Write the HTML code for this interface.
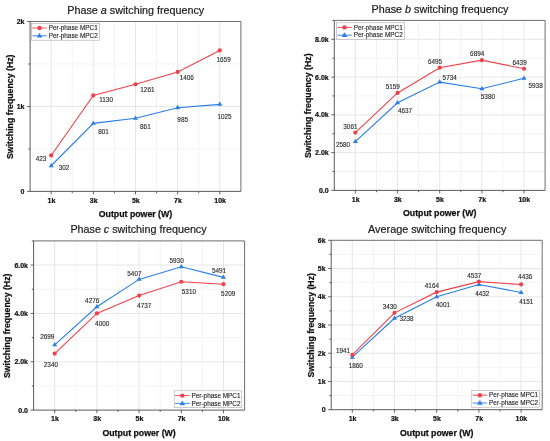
<!DOCTYPE html><html><head><meta charset="utf-8"><title>Switching frequency</title><style>html,body{margin:0;padding:0;background:#fff}svg{display:block}</style></head><body><svg width="550" height="441" viewBox="0 0 550 441" font-family="'Liberation Sans', sans-serif">
<rect width="550" height="441" fill="#fff"/>
<g stroke="#ececec" stroke-width="0.6"><line x1="72.26" y1="21.5" x2="72.26" y2="191.4"/><line x1="114.42" y1="21.5" x2="114.42" y2="191.4"/><line x1="156.58" y1="21.5" x2="156.58" y2="191.4"/><line x1="198.74" y1="21.5" x2="198.74" y2="191.4"/><line x1="30.1" y1="148.93" x2="240.9" y2="148.93"/><line x1="30.1" y1="63.97" x2="240.9" y2="63.97"/></g>
<g stroke="#dadada" stroke-width="0.65"><line x1="51.18" y1="21.5" x2="51.18" y2="191.4"/><line x1="93.34" y1="21.5" x2="93.34" y2="191.4"/><line x1="135.50" y1="21.5" x2="135.50" y2="191.4"/><line x1="177.66" y1="21.5" x2="177.66" y2="191.4"/><line x1="219.82" y1="21.5" x2="219.82" y2="191.4"/><line x1="30.1" y1="106.45" x2="240.9" y2="106.45"/></g>
<path d="M30.1 21.5H240.9V191.4" fill="none" stroke="#6e6e6e" stroke-width="1"/>
<path d="M30.1 21.5V191.4H240.9" fill="none" stroke="#484848" stroke-width="0.9"/>
<g stroke="#3a3a3a" stroke-width="0.8"><line x1="51.18000000000001" y1="191.4" x2="51.18000000000001" y2="194.4"/><line x1="72.26" y1="191.4" x2="72.26" y2="193.20000000000002"/><line x1="93.34" y1="191.4" x2="93.34" y2="194.4"/><line x1="114.42" y1="191.4" x2="114.42" y2="193.20000000000002"/><line x1="135.5" y1="191.4" x2="135.5" y2="194.4"/><line x1="156.57999999999998" y1="191.4" x2="156.57999999999998" y2="193.20000000000002"/><line x1="177.66" y1="191.4" x2="177.66" y2="194.4"/><line x1="198.74" y1="191.4" x2="198.74" y2="193.20000000000002"/><line x1="219.82" y1="191.4" x2="219.82" y2="194.4"/><line x1="30.1" y1="191.40" x2="27.1" y2="191.40"/><line x1="30.1" y1="148.93" x2="28.3" y2="148.93"/><line x1="30.1" y1="106.45" x2="27.1" y2="106.45"/><line x1="30.1" y1="63.97" x2="28.3" y2="63.97"/><line x1="30.1" y1="21.50" x2="27.1" y2="21.50"/></g>
<g font-size="7" font-weight="bold" fill="#111" stroke="#111" stroke-width="0.2"><text x="51.480000000000004" y="202.6" text-anchor="middle">1k</text><text x="93.64" y="202.6" text-anchor="middle">3k</text><text x="135.8" y="202.6" text-anchor="middle">5k</text><text x="177.96" y="202.6" text-anchor="middle">7k</text><text x="220.12" y="202.6" text-anchor="middle">10k</text><text x="24.5" y="193.90" text-anchor="end">0</text><text x="24.5" y="108.95" text-anchor="end">1k</text><text x="24.5" y="24.00" text-anchor="end">2k</text></g>
<text x="135.5" y="217" text-anchor="middle" font-size="8.75" font-weight="bold" fill="#111" stroke="#111" stroke-width="0.25">Output power (W)</text>
<text transform="translate(12.7 106.75) rotate(-90)" text-anchor="middle" font-size="8.75" font-weight="bold" fill="#111" stroke="#111" stroke-width="0.25">Switching frequency (Hz)</text>
<text x="135.8" y="14" text-anchor="middle" font-size="10.75" fill="#1a1a1a" stroke="#1a1a1a" stroke-width="0.2">Phase <tspan font-style="italic">a</tspan> switching frequency</text>
<polyline fill="none" stroke="#2a7de8" stroke-width="1.1" points="51.18,165.75 93.34,123.36 135.50,118.26 177.66,107.72 219.82,104.33"/>
<polyline fill="none" stroke="#f0404a" stroke-width="1.1" points="51.18,155.47 93.34,95.41 135.50,84.28 177.66,71.96 219.82,50.47"/>
<path d="M51.18 162.90l2.5 4.3h-5z" fill="#2a7de8"/>
<path d="M93.34 120.51l2.5 4.3h-5z" fill="#2a7de8"/>
<path d="M135.50 115.41l2.5 4.3h-5z" fill="#2a7de8"/>
<path d="M177.66 104.87l2.5 4.3h-5z" fill="#2a7de8"/>
<path d="M219.82 101.48l2.5 4.3h-5z" fill="#2a7de8"/>
<circle cx="51.18" cy="155.47" r="2.1" fill="#f0404a"/>
<circle cx="93.34" cy="95.41" r="2.1" fill="#f0404a"/>
<circle cx="135.50" cy="84.28" r="2.1" fill="#f0404a"/>
<circle cx="177.66" cy="71.96" r="2.1" fill="#f0404a"/>
<circle cx="219.82" cy="50.47" r="2.1" fill="#f0404a"/>
<g font-size="6.4" fill="#2a2a2a" stroke="#2a2a2a" stroke-width="0.12"><text x="41.00" y="160.50" text-anchor="middle">423</text><text x="106.10" y="101.50" text-anchor="middle">1130</text><text x="147.40" y="91.50" text-anchor="middle">1261</text><text x="186.80" y="79.50" text-anchor="middle">1406</text><text x="223.60" y="61.80" text-anchor="middle">1659</text><text x="64.00" y="170.00" text-anchor="middle">302</text><text x="103.50" y="133.80" text-anchor="middle">801</text><text x="145.40" y="128.60" text-anchor="middle">861</text><text x="182.70" y="121.80" text-anchor="middle">985</text><text x="224.50" y="119.40" text-anchor="middle">1025</text></g>
<rect x="31.40" y="23.40" width="68.3" height="16.8" fill="#fff" stroke="#aaa" stroke-width="0.6"/>
<line x1="32.30" y1="28.00" x2="46.90" y2="28.00" stroke="#f0404a" stroke-width="0.9"/>
<circle cx="39.50" cy="28.00" r="2.2" fill="#f0404a"/>
<text x="48.70" y="30.20" font-size="6.4" fill="#222" stroke="#222" stroke-width="0.12">Per-phase MPC1</text>
<line x1="32.30" y1="35.80" x2="46.90" y2="35.80" stroke="#2a7de8" stroke-width="0.9"/>
<path d="M39.50 32.90l2.8 4.7h-5.6z" fill="#2a7de8"/>
<text x="48.70" y="38.00" font-size="6.4" fill="#222" stroke="#222" stroke-width="0.12">Per-phase MPC2</text>
<g stroke="#ececec" stroke-width="0.6"><line x1="376.46" y1="20.4" x2="376.46" y2="190.4"/><line x1="418.62" y1="20.4" x2="418.62" y2="190.4"/><line x1="460.78" y1="20.4" x2="460.78" y2="190.4"/><line x1="502.94" y1="20.4" x2="502.94" y2="190.4"/><line x1="334.3" y1="171.51" x2="545.1" y2="171.51"/><line x1="334.3" y1="133.73" x2="545.1" y2="133.73"/><line x1="334.3" y1="95.96" x2="545.1" y2="95.96"/><line x1="334.3" y1="58.18" x2="545.1" y2="58.18"/></g>
<g stroke="#dadada" stroke-width="0.65"><line x1="355.38" y1="20.4" x2="355.38" y2="190.4"/><line x1="397.54" y1="20.4" x2="397.54" y2="190.4"/><line x1="439.70" y1="20.4" x2="439.70" y2="190.4"/><line x1="481.86" y1="20.4" x2="481.86" y2="190.4"/><line x1="524.02" y1="20.4" x2="524.02" y2="190.4"/><line x1="334.3" y1="152.62" x2="545.1" y2="152.62"/><line x1="334.3" y1="114.84" x2="545.1" y2="114.84"/><line x1="334.3" y1="77.07" x2="545.1" y2="77.07"/><line x1="334.3" y1="39.29" x2="545.1" y2="39.29"/></g>
<path d="M334.3 20.4H545.1V190.4" fill="none" stroke="#6e6e6e" stroke-width="1"/>
<path d="M334.3 20.4V190.4H545.1" fill="none" stroke="#484848" stroke-width="0.9"/>
<g stroke="#3a3a3a" stroke-width="0.8"><line x1="355.38" y1="190.4" x2="355.38" y2="193.4"/><line x1="376.46000000000004" y1="190.4" x2="376.46000000000004" y2="192.20000000000002"/><line x1="397.54" y1="190.4" x2="397.54" y2="193.4"/><line x1="418.62" y1="190.4" x2="418.62" y2="192.20000000000002"/><line x1="439.70000000000005" y1="190.4" x2="439.70000000000005" y2="193.4"/><line x1="460.78000000000003" y1="190.4" x2="460.78000000000003" y2="192.20000000000002"/><line x1="481.86" y1="190.4" x2="481.86" y2="193.4"/><line x1="502.94" y1="190.4" x2="502.94" y2="192.20000000000002"/><line x1="524.02" y1="190.4" x2="524.02" y2="193.4"/><line x1="334.3" y1="190.40" x2="331.3" y2="190.40"/><line x1="334.3" y1="171.51" x2="332.5" y2="171.51"/><line x1="334.3" y1="152.62" x2="331.3" y2="152.62"/><line x1="334.3" y1="133.73" x2="332.5" y2="133.73"/><line x1="334.3" y1="114.84" x2="331.3" y2="114.84"/><line x1="334.3" y1="95.96" x2="332.5" y2="95.96"/><line x1="334.3" y1="77.07" x2="331.3" y2="77.07"/><line x1="334.3" y1="58.18" x2="332.5" y2="58.18"/><line x1="334.3" y1="39.29" x2="331.3" y2="39.29"/><line x1="334.3" y1="20.40" x2="332.5" y2="20.40"/></g>
<g font-size="7" font-weight="bold" fill="#111" stroke="#111" stroke-width="0.2"><text x="355.68" y="201.6" text-anchor="middle">1k</text><text x="397.84000000000003" y="201.6" text-anchor="middle">3k</text><text x="440.00000000000006" y="201.6" text-anchor="middle">5k</text><text x="482.16" y="201.6" text-anchor="middle">7k</text><text x="524.3199999999999" y="201.6" text-anchor="middle">10k</text><text x="328.7" y="192.90" text-anchor="end">0.0</text><text x="328.7" y="155.12" text-anchor="end">2.0k</text><text x="328.7" y="117.34" text-anchor="end">4.0k</text><text x="328.7" y="79.57" text-anchor="end">6.0k</text><text x="328.7" y="41.79" text-anchor="end">8.0k</text></g>
<text x="439.70000000000005" y="216" text-anchor="middle" font-size="8.75" font-weight="bold" fill="#111" stroke="#111" stroke-width="0.25">Output power (W)</text>
<text transform="translate(310.8 105.70) rotate(-90)" text-anchor="middle" font-size="8.75" font-weight="bold" fill="#111" stroke="#111" stroke-width="0.25">Switching frequency (Hz)</text>
<text x="440" y="13.1" text-anchor="middle" font-size="10.75" fill="#1a1a1a" stroke="#1a1a1a" stroke-width="0.2">Phase <tspan font-style="italic">b</tspan> switching frequency</text>
<polyline fill="none" stroke="#2a7de8" stroke-width="1.1" points="355.38,141.67 397.54,102.81 439.70,82.09 481.86,88.78 524.02,78.24"/>
<polyline fill="none" stroke="#f0404a" stroke-width="1.1" points="355.38,132.58 397.54,92.95 439.70,67.72 481.86,60.18 524.02,68.77"/>
<path d="M355.38 138.82l2.5 4.3h-5z" fill="#2a7de8"/>
<path d="M397.54 99.96l2.5 4.3h-5z" fill="#2a7de8"/>
<path d="M439.70 79.24l2.5 4.3h-5z" fill="#2a7de8"/>
<path d="M481.86 85.93l2.5 4.3h-5z" fill="#2a7de8"/>
<path d="M524.02 75.39l2.5 4.3h-5z" fill="#2a7de8"/>
<circle cx="355.38" cy="132.58" r="2.1" fill="#f0404a"/>
<circle cx="397.54" cy="92.95" r="2.1" fill="#f0404a"/>
<circle cx="439.70" cy="67.72" r="2.1" fill="#f0404a"/>
<circle cx="481.86" cy="60.18" r="2.1" fill="#f0404a"/>
<circle cx="524.02" cy="68.77" r="2.1" fill="#f0404a"/>
<g font-size="6.4" fill="#2a2a2a" stroke="#2a2a2a" stroke-width="0.12"><text x="350.40" y="128.70" text-anchor="middle">3061</text><text x="392.80" y="89.00" text-anchor="middle">5159</text><text x="435.00" y="63.80" text-anchor="middle">6495</text><text x="477.20" y="56.00" text-anchor="middle">6894</text><text x="519.60" y="64.80" text-anchor="middle">6439</text><text x="343.00" y="147.00" text-anchor="middle">2580</text><text x="405.00" y="112.80" text-anchor="middle">4637</text><text x="449.70" y="79.50" text-anchor="middle">5734</text><text x="487.90" y="99.20" text-anchor="middle">5380</text><text x="535.60" y="88.40" text-anchor="middle">5938</text></g>
<rect x="336.40" y="22.80" width="68.3" height="16.8" fill="#fff" stroke="#aaa" stroke-width="0.6"/>
<line x1="337.30" y1="27.40" x2="351.90" y2="27.40" stroke="#f0404a" stroke-width="0.9"/>
<circle cx="344.50" cy="27.40" r="2.2" fill="#f0404a"/>
<text x="353.70" y="29.60" font-size="6.4" fill="#222" stroke="#222" stroke-width="0.12">Per-phase MPC1</text>
<line x1="337.30" y1="35.20" x2="351.90" y2="35.20" stroke="#2a7de8" stroke-width="0.9"/>
<path d="M344.50 32.30l2.8 4.7h-5.6z" fill="#2a7de8"/>
<text x="353.70" y="37.40" font-size="6.4" fill="#222" stroke="#222" stroke-width="0.12">Per-phase MPC2</text>
<g stroke="#ececec" stroke-width="0.6"><line x1="75.80" y1="240.9" x2="75.80" y2="410.1"/><line x1="118.00" y1="240.9" x2="118.00" y2="410.1"/><line x1="160.20" y1="240.9" x2="160.20" y2="410.1"/><line x1="202.40" y1="240.9" x2="202.40" y2="410.1"/><line x1="33.6" y1="385.93" x2="244.6" y2="385.93"/><line x1="33.6" y1="337.59" x2="244.6" y2="337.59"/><line x1="33.6" y1="289.24" x2="244.6" y2="289.24"/></g>
<g stroke="#dadada" stroke-width="0.65"><line x1="54.70" y1="240.9" x2="54.70" y2="410.1"/><line x1="96.90" y1="240.9" x2="96.90" y2="410.1"/><line x1="139.10" y1="240.9" x2="139.10" y2="410.1"/><line x1="181.30" y1="240.9" x2="181.30" y2="410.1"/><line x1="223.50" y1="240.9" x2="223.50" y2="410.1"/><line x1="33.6" y1="361.76" x2="244.6" y2="361.76"/><line x1="33.6" y1="313.41" x2="244.6" y2="313.41"/><line x1="33.6" y1="265.07" x2="244.6" y2="265.07"/></g>
<path d="M33.6 240.9H244.6V410.1" fill="none" stroke="#6e6e6e" stroke-width="1"/>
<path d="M33.6 240.9V410.1H244.6" fill="none" stroke="#484848" stroke-width="0.9"/>
<g stroke="#3a3a3a" stroke-width="0.8"><line x1="54.7" y1="410.1" x2="54.7" y2="413.1"/><line x1="75.80000000000001" y1="410.1" x2="75.80000000000001" y2="411.90000000000003"/><line x1="96.9" y1="410.1" x2="96.9" y2="413.1"/><line x1="118.0" y1="410.1" x2="118.0" y2="411.90000000000003"/><line x1="139.1" y1="410.1" x2="139.1" y2="413.1"/><line x1="160.2" y1="410.1" x2="160.2" y2="411.90000000000003"/><line x1="181.29999999999998" y1="410.1" x2="181.29999999999998" y2="413.1"/><line x1="202.39999999999998" y1="410.1" x2="202.39999999999998" y2="411.90000000000003"/><line x1="223.5" y1="410.1" x2="223.5" y2="413.1"/><line x1="33.6" y1="410.10" x2="30.6" y2="410.10"/><line x1="33.6" y1="385.93" x2="31.8" y2="385.93"/><line x1="33.6" y1="361.76" x2="30.6" y2="361.76"/><line x1="33.6" y1="337.59" x2="31.8" y2="337.59"/><line x1="33.6" y1="313.41" x2="30.6" y2="313.41"/><line x1="33.6" y1="289.24" x2="31.8" y2="289.24"/><line x1="33.6" y1="265.07" x2="30.6" y2="265.07"/><line x1="33.6" y1="240.90" x2="31.8" y2="240.90"/></g>
<g font-size="7" font-weight="bold" fill="#111" stroke="#111" stroke-width="0.2"><text x="55.0" y="421.3" text-anchor="middle">1k</text><text x="97.2" y="421.3" text-anchor="middle">3k</text><text x="139.4" y="421.3" text-anchor="middle">5k</text><text x="181.6" y="421.3" text-anchor="middle">7k</text><text x="223.8" y="421.3" text-anchor="middle">10k</text><text x="28.0" y="412.60" text-anchor="end">0.0</text><text x="28.0" y="364.26" text-anchor="end">2.0k</text><text x="28.0" y="315.91" text-anchor="end">4.0k</text><text x="28.0" y="267.57" text-anchor="end">6.0k</text></g>
<text x="139.1" y="436" text-anchor="middle" font-size="8.75" font-weight="bold" fill="#111" stroke="#111" stroke-width="0.25">Output power (W)</text>
<text transform="translate(10.4 325.80) rotate(-90)" text-anchor="middle" font-size="8.75" font-weight="bold" fill="#111" stroke="#111" stroke-width="0.25">Switching frequency (Hz)</text>
<text x="138.5" y="233.3" text-anchor="middle" font-size="10.75" fill="#1a1a1a" stroke="#1a1a1a" stroke-width="0.2">Phase <tspan font-style="italic">c</tspan> switching frequency</text>
<polyline fill="none" stroke="#2a7de8" stroke-width="1.1" points="54.70,344.86 96.90,306.74 139.10,279.41 181.30,266.76 223.50,277.37"/>
<polyline fill="none" stroke="#f0404a" stroke-width="1.1" points="54.70,353.54 96.90,313.41 139.10,295.60 181.30,281.75 223.50,284.19"/>
<path d="M54.70 342.01l2.5 4.3h-5z" fill="#2a7de8"/>
<path d="M96.90 303.89l2.5 4.3h-5z" fill="#2a7de8"/>
<path d="M139.10 276.56l2.5 4.3h-5z" fill="#2a7de8"/>
<path d="M181.30 263.91l2.5 4.3h-5z" fill="#2a7de8"/>
<path d="M223.50 274.52l2.5 4.3h-5z" fill="#2a7de8"/>
<circle cx="54.70" cy="353.54" r="2.1" fill="#f0404a"/>
<circle cx="96.90" cy="313.41" r="2.1" fill="#f0404a"/>
<circle cx="139.10" cy="295.60" r="2.1" fill="#f0404a"/>
<circle cx="181.30" cy="281.75" r="2.1" fill="#f0404a"/>
<circle cx="223.50" cy="284.19" r="2.1" fill="#f0404a"/>
<g font-size="6.4" fill="#2a2a2a" stroke="#2a2a2a" stroke-width="0.12"><text x="50.90" y="367.10" text-anchor="middle">2340</text><text x="102.20" y="325.50" text-anchor="middle">4000</text><text x="144.20" y="307.90" text-anchor="middle">4737</text><text x="188.90" y="293.70" text-anchor="middle">5310</text><text x="228.20" y="296.10" text-anchor="middle">5209</text><text x="47.30" y="339.20" text-anchor="middle">2699</text><text x="92.20" y="302.70" text-anchor="middle">4276</text><text x="134.40" y="275.50" text-anchor="middle">5407</text><text x="176.60" y="262.80" text-anchor="middle">5930</text><text x="219.00" y="273.10" text-anchor="middle">5491</text></g>
<rect x="174.20" y="390.80" width="67.6" height="16.8" fill="#fff" stroke="#aaa" stroke-width="0.6"/>
<line x1="175.10" y1="395.60" x2="189.70" y2="395.60" stroke="#f0404a" stroke-width="0.9"/>
<circle cx="182.30" cy="395.60" r="2.2" fill="#f0404a"/>
<text x="191.50" y="397.80" font-size="6.4" fill="#222" stroke="#222" stroke-width="0.12">Per-phase MPC1</text>
<line x1="175.10" y1="403.40" x2="189.70" y2="403.40" stroke="#2a7de8" stroke-width="0.9"/>
<path d="M182.30 400.50l2.8 4.7h-5.6z" fill="#2a7de8"/>
<text x="191.50" y="405.60" font-size="6.4" fill="#222" stroke="#222" stroke-width="0.12">Per-phase MPC2</text>
<g stroke="#ececec" stroke-width="0.6"><line x1="373.40" y1="240.3" x2="373.40" y2="409.7"/><line x1="415.60" y1="240.3" x2="415.60" y2="409.7"/><line x1="457.80" y1="240.3" x2="457.80" y2="409.7"/><line x1="500.00" y1="240.3" x2="500.00" y2="409.7"/><line x1="331.2" y1="395.58" x2="542.2" y2="395.58"/><line x1="331.2" y1="367.35" x2="542.2" y2="367.35"/><line x1="331.2" y1="339.12" x2="542.2" y2="339.12"/><line x1="331.2" y1="310.88" x2="542.2" y2="310.88"/><line x1="331.2" y1="282.65" x2="542.2" y2="282.65"/><line x1="331.2" y1="254.42" x2="542.2" y2="254.42"/></g>
<g stroke="#dadada" stroke-width="0.65"><line x1="352.30" y1="240.3" x2="352.30" y2="409.7"/><line x1="394.50" y1="240.3" x2="394.50" y2="409.7"/><line x1="436.70" y1="240.3" x2="436.70" y2="409.7"/><line x1="478.90" y1="240.3" x2="478.90" y2="409.7"/><line x1="521.10" y1="240.3" x2="521.10" y2="409.7"/><line x1="331.2" y1="381.47" x2="542.2" y2="381.47"/><line x1="331.2" y1="353.23" x2="542.2" y2="353.23"/><line x1="331.2" y1="325.00" x2="542.2" y2="325.00"/><line x1="331.2" y1="296.77" x2="542.2" y2="296.77"/><line x1="331.2" y1="268.53" x2="542.2" y2="268.53"/></g>
<path d="M331.2 240.3H542.2V409.7" fill="none" stroke="#6e6e6e" stroke-width="1"/>
<path d="M331.2 240.3V409.7H542.2" fill="none" stroke="#484848" stroke-width="0.9"/>
<g stroke="#3a3a3a" stroke-width="0.8"><line x1="352.3" y1="409.7" x2="352.3" y2="412.7"/><line x1="373.4" y1="409.7" x2="373.4" y2="411.5"/><line x1="394.5" y1="409.7" x2="394.5" y2="412.7"/><line x1="415.6" y1="409.7" x2="415.6" y2="411.5"/><line x1="436.70000000000005" y1="409.7" x2="436.70000000000005" y2="412.7"/><line x1="457.80000000000007" y1="409.7" x2="457.80000000000007" y2="411.5"/><line x1="478.90000000000003" y1="409.7" x2="478.90000000000003" y2="412.7"/><line x1="500.0" y1="409.7" x2="500.0" y2="411.5"/><line x1="521.1" y1="409.7" x2="521.1" y2="412.7"/><line x1="331.2" y1="409.70" x2="328.2" y2="409.70"/><line x1="331.2" y1="395.58" x2="329.4" y2="395.58"/><line x1="331.2" y1="381.47" x2="328.2" y2="381.47"/><line x1="331.2" y1="367.35" x2="329.4" y2="367.35"/><line x1="331.2" y1="353.23" x2="328.2" y2="353.23"/><line x1="331.2" y1="339.12" x2="329.4" y2="339.12"/><line x1="331.2" y1="325.00" x2="328.2" y2="325.00"/><line x1="331.2" y1="310.88" x2="329.4" y2="310.88"/><line x1="331.2" y1="296.77" x2="328.2" y2="296.77"/><line x1="331.2" y1="282.65" x2="329.4" y2="282.65"/><line x1="331.2" y1="268.53" x2="328.2" y2="268.53"/><line x1="331.2" y1="254.42" x2="329.4" y2="254.42"/><line x1="331.2" y1="240.30" x2="328.2" y2="240.30"/></g>
<g font-size="7" font-weight="bold" fill="#111" stroke="#111" stroke-width="0.2"><text x="352.6" y="420.9" text-anchor="middle">1k</text><text x="394.8" y="420.9" text-anchor="middle">3k</text><text x="437.00000000000006" y="420.9" text-anchor="middle">5k</text><text x="479.20000000000005" y="420.9" text-anchor="middle">7k</text><text x="521.4" y="420.9" text-anchor="middle">10k</text><text x="325.59999999999997" y="412.20" text-anchor="end">0</text><text x="325.59999999999997" y="383.97" text-anchor="end">1k</text><text x="325.59999999999997" y="355.73" text-anchor="end">2k</text><text x="325.59999999999997" y="327.50" text-anchor="end">3k</text><text x="325.59999999999997" y="299.27" text-anchor="end">4k</text><text x="325.59999999999997" y="271.03" text-anchor="end">5k</text><text x="325.59999999999997" y="242.80" text-anchor="end">6k</text></g>
<text x="436.70000000000005" y="435.5" text-anchor="middle" font-size="8.75" font-weight="bold" fill="#111" stroke="#111" stroke-width="0.25">Output power (W)</text>
<text transform="translate(313.7 325.30) rotate(-90)" text-anchor="middle" font-size="8.75" font-weight="bold" fill="#111" stroke="#111" stroke-width="0.25">Switching frequency (Hz)</text>
<text x="437.2" y="232.5" text-anchor="middle" font-size="10.83" fill="#1a1a1a" stroke="#1a1a1a" stroke-width="0.2">Average switching frequency</text>
<polyline fill="none" stroke="#2a7de8" stroke-width="1.1" points="352.30,357.19 394.50,318.28 436.70,296.74 478.90,284.57 521.10,292.50"/>
<polyline fill="none" stroke="#f0404a" stroke-width="1.1" points="352.30,354.90 394.50,312.86 436.70,292.14 478.90,281.61 521.10,284.46"/>
<path d="M352.30 354.34l2.5 4.3h-5z" fill="#2a7de8"/>
<path d="M394.50 315.43l2.5 4.3h-5z" fill="#2a7de8"/>
<path d="M436.70 293.89l2.5 4.3h-5z" fill="#2a7de8"/>
<path d="M478.90 281.72l2.5 4.3h-5z" fill="#2a7de8"/>
<path d="M521.10 289.65l2.5 4.3h-5z" fill="#2a7de8"/>
<circle cx="352.30" cy="354.90" r="2.1" fill="#f0404a"/>
<circle cx="394.50" cy="312.86" r="2.1" fill="#f0404a"/>
<circle cx="436.70" cy="292.14" r="2.1" fill="#f0404a"/>
<circle cx="478.90" cy="281.61" r="2.1" fill="#f0404a"/>
<circle cx="521.10" cy="284.46" r="2.1" fill="#f0404a"/>
<g font-size="6.4" fill="#2a2a2a" stroke="#2a2a2a" stroke-width="0.12"><text x="343.00" y="353.30" text-anchor="middle">1941</text><text x="389.80" y="308.80" text-anchor="middle">3430</text><text x="431.90" y="288.10" text-anchor="middle">4164</text><text x="474.30" y="277.80" text-anchor="middle">4537</text><text x="525.20" y="278.70" text-anchor="middle">4436</text><text x="355.80" y="368.00" text-anchor="middle">1860</text><text x="406.50" y="321.40" text-anchor="middle">3238</text><text x="442.90" y="306.70" text-anchor="middle">4001</text><text x="482.30" y="296.40" text-anchor="middle">4432</text><text x="526.30" y="304.30" text-anchor="middle">4151</text></g>
<rect x="471.80" y="390.40" width="67.6" height="16.8" fill="#fff" stroke="#aaa" stroke-width="0.6"/>
<line x1="472.70" y1="395.20" x2="487.30" y2="395.20" stroke="#f0404a" stroke-width="0.9"/>
<circle cx="479.90" cy="395.20" r="2.2" fill="#f0404a"/>
<text x="489.10" y="397.40" font-size="6.4" fill="#222" stroke="#222" stroke-width="0.12">Per-phase MPC1</text>
<line x1="472.70" y1="403.00" x2="487.30" y2="403.00" stroke="#2a7de8" stroke-width="0.9"/>
<path d="M479.90 400.10l2.8 4.7h-5.6z" fill="#2a7de8"/>
<text x="489.10" y="405.20" font-size="6.4" fill="#222" stroke="#222" stroke-width="0.12">Per-phase MPC2</text>
</svg></body></html>
